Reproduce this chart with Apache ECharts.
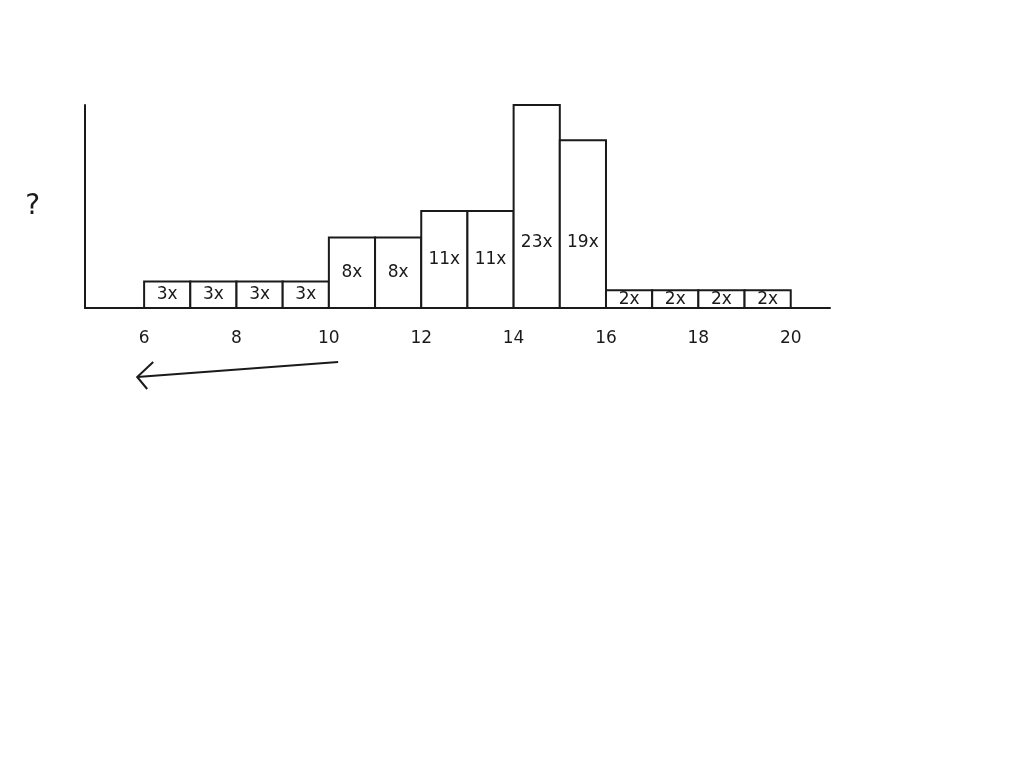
<!DOCTYPE html>
<html>
<head>
<meta charset="utf-8">
<script src="https://cdn.jsdelivr.net/npm/echarts@6/dist/echarts.min.js"></script>
<style>html,body{margin:0;padding:0;background:#fff;}#c{width:1024px;height:768px;}</style>
</head>
<body>
<div id="c"></div>
<script>
// Histogram bins: left edge of each bin (width 1) and its count
var binStarts = [6, 7, 8, 9, 10, 11, 12, 13, 14, 15, 16, 17, 18, 19];
var counts    = [3, 3, 3, 3, 8, 8, 11, 11, 23, 19, 2, 2, 2, 2];
var binLabels = ['3x','3x','3x','3x','8x','8x','11x','11x','23x','19x','2x','2x','2x','2x'];
var xTickValues = [6, 8, 10, 12, 14, 16, 18, 20];
var yAxisName = '?';

var INK = '#1a1a1a';
var FONT = '"DejaVu Sans", sans-serif';

var chart = echarts.init(document.getElementById('c'));
var data = binStarts.map(function (s, i) { return [s, counts[i], binLabels[i]]; });

chart.setOption({
  backgroundColor: '#fff',
  animation: false,
  grid: { left: 85, right: 194, top: 105, bottom: 460 },
  xAxis: {
    type: 'value', min: 4.72, max: 20.85,
    splitLine: { show: false },
    axisLine: { show: true, lineStyle: { color: INK, width: 2 } },
    axisTick: { show: false },
    axisLabel: { customValues: xTickValues, color: INK, fontSize: 17, fontFamily: FONT, margin: 22 }
  },
  yAxis: {
    type: 'value', min: 0, max: 23,
    name: yAxisName, nameLocation: 'middle', nameGap: 45, nameRotate: 0,
    nameTextStyle: { color: INK, fontSize: 28, fontFamily: FONT },
    splitLine: { show: false },
    axisLine: { show: true, lineStyle: { color: INK, width: 2 } },
    axisTick: { show: false },
    axisLabel: { show: false }
  },
  series: [{
    type: 'custom',
    data: data,
    encode: { x: 0, y: 1 },
    renderItem: function (params, api) {
      var x0 = api.value(0), v = api.value(1);
      var p0 = api.coord([x0, 0]);
      var p1 = api.coord([x0 + 1, v]);
      var lp = api.coord([x0 + 0.5, Math.min(v / 2, 7.4)]);
      return {
        type: 'group',
        children: [{
          type: 'rect',
          shape: { x: p0[0], y: p1[1], width: p1[0] - p0[0], height: p0[1] - p1[1] },
          style: { fill: '#fff', stroke: INK, lineWidth: 2 }
        }, {
          type: 'text',
          style: {
            x: lp[0], y: lp[1], text: binLabels[params.dataIndex],
            fill: INK, fontSize: 17, fontFamily: FONT, align: 'center', verticalAlign: 'middle'
          }
        }]
      };
    }
  }]
});

// Left-pointing arrow under the axis, spanning from 10 back toward 6
var ax = chart.convertToPixel({ xAxisIndex: 0 }, 10.2);
var bx = chart.convertToPixel({ xAxisIndex: 0 }, 5.85);
var ay = 372;
chart.setOption({
  graphic: [{
    type: 'polyline',
    shape: { points: [[ax, ay - 10], [bx, ay + 5]] },
    style: { stroke: INK, lineWidth: 2, fill: null }
  }, {
    type: 'polyline',
    shape: { points: [[bx + 16, ay - 10], [bx, ay + 5], [bx + 10, ay + 17]] },
    style: { stroke: INK, lineWidth: 2, fill: null }
  }]
});
</script>
</body>
</html>
